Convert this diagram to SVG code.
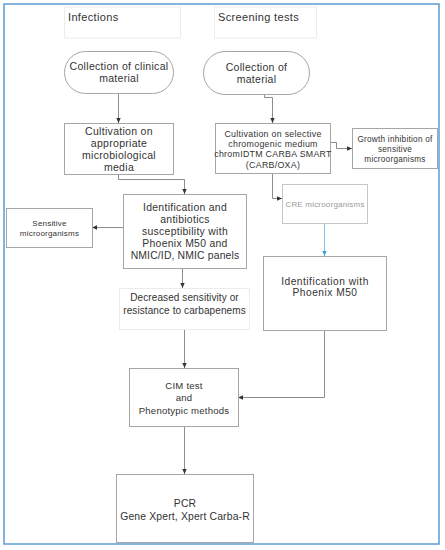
<svg xmlns="http://www.w3.org/2000/svg" width="445" height="550" viewBox="0 0 445 550">
<defs>
<marker id="ah" markerWidth="6" markerHeight="6" refX="5" refY="3" orient="auto" markerUnits="userSpaceOnUse"><path d="M0,0.8 L5,3 L0,5.2 Z" fill="#333"/></marker>
<marker id="ahb" markerWidth="6" markerHeight="6" refX="5" refY="3" orient="auto" markerUnits="userSpaceOnUse"><path d="M0,0.8 L5,3 L0,5.2 Z" fill="#3aa0d8"/></marker>
</defs>
<style>
text{font-family:"Liberation Sans",Arial,sans-serif;fill:#333;text-anchor:middle}
.box{fill:#fff;stroke:#a6a6a6;stroke-width:1}
.faint{fill:#fff;stroke:#ececec;stroke-width:1}
.cre{fill:#fff;stroke:#c6c6c6;stroke-width:1}
.con{fill:none;stroke:#8c8c8c;stroke-width:1;marker-end:url(#ah)}
.conb{fill:none;stroke:#7cc8ec;stroke-width:1;marker-end:url(#ahb)}
.hd{font-size:11px;letter-spacing:0.35px;text-anchor:start}
.t105{font-size:10.5px;letter-spacing:0.3px}
.t9{font-size:8.8px;letter-spacing:0.3px}
.t8{font-size:8px;letter-spacing:0.2px}
</style>
<rect x="0" y="0" width="445" height="550" fill="#fff"/>
<rect x="4" y="4" width="435" height="540" fill="#fff" stroke="#5b9bd5" stroke-width="1.5"/>

<g id="hdr-infections"><rect class="faint" x="64.5" y="7" width="116" height="31"/><text class="hd" x="68" y="21">Infections</text></g>
<g id="hdr-screening"><rect class="faint" x="214.5" y="7" width="102" height="31"/><text class="hd" x="218" y="21">Screening tests</text></g>

<g id="connectors">
<path class="con" d="M118.5,93 V123"/>
<path class="con" d="M264.5,95 V97.5 H272.5 V123"/>
<path class="con" d="M118.5,174 V179.5 H184.5 V194"/>
<path class="con" d="M330,142.5 H336.5 V148.5 H352"/>
<path class="con" d="M272.5,173 V198.5 H282"/>
<path class="conb" d="M324.5,223 V256"/>
<path class="con" d="M123,227.5 H92"/>
<path class="con" d="M182.5,268 V288"/>
<path class="con" d="M184.5,329 V368"/>
<path class="con" d="M324.5,330 V397.5 H238"/>
<path class="con" d="M184.5,426 V474"/>
</g>

<g id="collect-clinical"><rect class="box" x="64.5" y="51.5" width="109" height="42" rx="21" ry="21"/>
<text class="t105" x="119" y="69.5">Collection of clinical</text><text class="t105" x="119" y="81.5">material</text></g>
<g id="collect-material"><rect class="box" x="203.5" y="51.5" width="106" height="43" rx="21.5" ry="21.5"/>
<text class="t105" x="256.5" y="70.5">Collection of</text><text class="t105" x="256.5" y="82.5">material</text></g>

<g id="cult-appropriate"><rect class="box" x="64.5" y="123.5" width="109" height="51"/>
<text class="t105" x="119" y="134.5">Cultivation on</text><text class="t105" x="119" y="146.5">appropriate</text><text class="t105" x="119" y="158.5">microbiological</text><text class="t105" x="119" y="170.5">media</text></g>

<g id="cult-selective"><rect class="box" x="215.5" y="123.5" width="115" height="50"/>
<text class="t9" x="273" y="137">Cultivation on selective</text><text class="t9" x="273" y="147.2">chromogenic medium</text><text class="t9" x="273" y="157.4">chromIDTM CARBA SMART</text><text class="t9" x="273" y="167.6">(CARB/OXA)</text></g>

<g id="growth-inhibition"><rect class="box" x="352.5" y="128.5" width="85" height="40"/>
<text x="395" y="142" style="font-size:8.2px;letter-spacing:0.25px">Growth inhibition of</text><text x="395" y="152" style="font-size:8.2px;letter-spacing:0.25px">sensitive</text><text x="395" y="162" style="font-size:8.2px;letter-spacing:0.25px">microorganisms</text></g>

<g id="identification-antibiotics"><rect class="box" x="123.5" y="194.5" width="123" height="74"/>
<text x="185" y="210.5" style="font-size:10.4px;letter-spacing:0.3px">Identification and</text><text x="185" y="222.5" style="font-size:10.4px;letter-spacing:0.3px">antibiotics</text><text x="185" y="234.5" style="font-size:10.4px;letter-spacing:0.3px">susceptibility with</text><text x="185" y="246.5" style="font-size:10.4px;letter-spacing:0.3px">Phoenix M50 and</text><text x="185" y="258.5" style="font-size:10.4px;letter-spacing:0.15px">NMIC/ID, NMIC panels</text></g>

<g id="sensitive"><rect class="box" x="6.5" y="208.5" width="86" height="39"/>
<text class="t8" x="49.5" y="225.5">Sensitive</text><text class="t8" x="49.5" y="235.5">microorganisms</text></g>

<g id="cre"><rect class="cre" x="282.5" y="184.5" width="85" height="39"/>
<text class="t8" x="325" y="207" style="fill:#9a9a9a">CRE microorganisms</text></g>

<g id="identification-phoenix"><rect class="box" x="263.5" y="256.5" width="123" height="74"/>
<text x="325" y="284.5" style="font-size:10.2px;letter-spacing:0.5px">Identification with</text><text x="325" y="296.3" style="font-size:10.2px;letter-spacing:0.5px">Phoenix M50</text></g>

<g id="decreased"><rect class="faint" x="119.5" y="288.5" width="130" height="41"/>
<text x="184.5" y="300.5" style="font-size:10px;letter-spacing:0.1px">Decreased sensitivity or</text><text x="184.5" y="313.5" style="font-size:10px;letter-spacing:0.1px">resistance to carbapenems</text></g>

<g id="cim"><rect class="box" x="129.5" y="368.5" width="109" height="58"/>
<text x="184" y="388.5" style="font-size:9.6px;letter-spacing:0.2px">CIM test</text><text x="184" y="400.5" style="font-size:9.6px;letter-spacing:0.2px">and</text><text x="184" y="413.5" style="font-size:9.6px;letter-spacing:0.2px">Phenotypic methods</text></g>

<g id="pcr"><rect class="box" x="116.5" y="474.5" width="137" height="68"/>
<text x="185" y="506.5" style="font-size:10.4px;letter-spacing:0.15px">PCR</text><text x="185" y="519.5" style="font-size:10.4px;letter-spacing:0.15px">Gene Xpert, Xpert Carba-R</text></g>
</svg>
